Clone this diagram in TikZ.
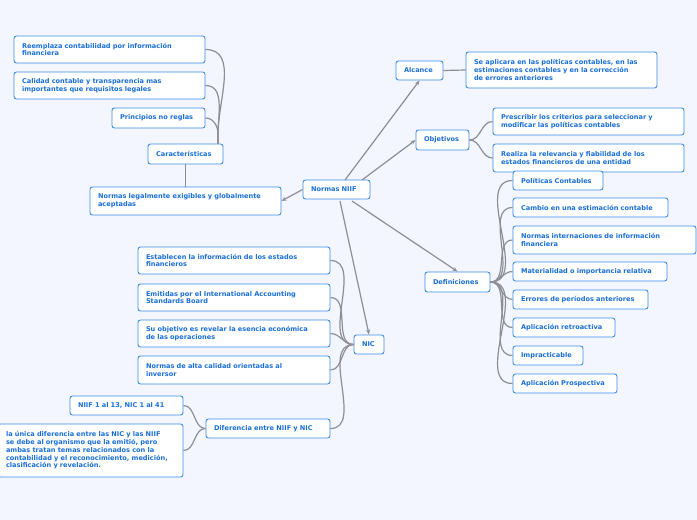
\documentclass[tikz,border=0pt]{standalone}
\usepackage{fontspec}
\setmainfont{DejaVu Sans}
\usetikzlibrary{arrows.meta}
\definecolor{bg}{HTML}{F3F6FE}
\definecolor{tx}{HTML}{1A6FD8}
\definecolor{bd}{HTML}{3D8DE8}
\definecolor{ln}{HTML}{8E8E94}
\tikzset{
  bx/.style={draw=bd,fill=white,rounded corners=2.5bp,line width=0.9bp,text=tx,
    font=\fontsize{6.6}{7.8}\selectfont\bfseries,align=left,inner xsep=0pt,inner ysep=0pt},
  con/.style={draw=ln,line width=1.2bp},
  arr/.style={con,-{Stealth[length=5bp,width=4bp]}}
}
\newcommand{\bx}[6]{%
  \pgfmathsetmacro{\cx}{(#2+#4)/2}\pgfmathsetmacro{\cy}{-(#3+#5)/2}%
  \pgfmathsetmacro{\ww}{#4-#2}\pgfmathsetmacro{\hh}{#5-#3}\pgfmathsetmacro{\tw}{#4-#2-16}%
  \node[bx,minimum width=\ww bp,minimum height=\hh bp,text width=\tw bp] (#1) at (\cx bp,\cy bp) {#6};}
\begin{document}
\begin{tikzpicture}[x=1bp,y=1bp]
\useasboundingbox[fill=bg] (0,0) rectangle (697,-520);
\bx{reem}{14}{36}{205}{63}{Reemplaza contabilidad por información\\financiera}
\bx{cali}{14}{72}{205}{99}{Calidad contable y transparencia mas\\importantes que requisitos legales}
\bx{prin}{112}{108}{205}{128}{Principios no reglas}
\bx{car}{148}{144}{223}{164}{Características}
\bx{nleg}{90}{187}{281}{215}{Normas legalmente exigibles y globalmente\\aceptadas}
\bx{niif}{303}{180}{370}{199}{Normas NIIF}
\bx{alc}{396}{61}{443}{80}{Alcance}
\bx{seap}{466}{52}{657}{88}{Se aplicara en las políticas contables, en las\\estimaciones contables y en la corrección\\de errores anteriores}
\bx{obj}{416}{130}{469}{150}{Objetivos}
\bx{pres}{493}{108}{684}{135}{Prescribir los criterios para seleccionar y\\modificar las políticas contables}
\bx{real}{493}{144}{684}{172}{Realiza la relevancia y fiabilidad de los\\estados financieros de una entidad}
\bx{def}{425}{272}{490}{292}{Definiciones}
\bx{d1}{513}{171}{603}{190}{Políticas Contables}
\bx{d2}{513}{198}{668}{217}{Cambio en una estimación contable}
\bx{d3}{513}{226}{696}{254}{Normas internaciones de información\\financiera}
\bx{d4}{513}{262}{667}{281}{Materialidad o importancia relativa}
\bx{d5}{513}{290}{648}{309}{Errores de períodos anteriores}
\bx{d6}{513}{318}{615}{337}{Aplicación retroactiva}
\bx{d7}{513}{346}{583}{365}{Impracticable}
\bx{d8}{513}{374}{617}{393}{Aplicación Prospectiva}
\bx{nic}{354}{335}{384}{354}{NIC}
\bx{n1}{138}{247}{330}{274}{Establecen la información de los estados\\financieros}
\bx{n2}{138}{284}{330}{311}{Emitidas por el International Accounting\\Standards Board}
\bx{n3}{138}{320}{330}{347}{Su objetivo es revelar la esencia económica\\de las operaciones}
\bx{n4}{138}{356}{330}{384}{Normas de alta calidad orientadas al\\inversor}
\bx{dif}{206}{419}{330}{438}{Diferencia entre NIIF y NIC}
\bx{f1}{70}{396}{183}{415}{NIIF 1 al 13, NIC 1 al 41}
\bx{f2}{-2}{424}{183}{477}{la única diferencia entre las NIC y las NIIF\\se debe al organismo que la emitió, pero\\ambas tratan temas relacionados con la\\contabilidad y el reconocimiento, medición,\\clasificación y revelación.}
% arrows from Normas NIIF
\coordinate (a1) at (345,-180); \coordinate (a2) at (362,-180);
\coordinate (a3) at (352,-201); \coordinate (a4) at (340,-201);
\draw[arr] (a1) -- (alc.south);
\draw[arr] (a2) -- (obj.west);
\draw[arr] (a3) -- (def.north);
\draw[arr] (a4) -- (nic.north);
\draw[arr] (niif.west) -- (nleg.east);
% caracteristicas
\coordinate (cT) at (218,-144);
\foreach \c in {reem,cali,prin} \draw[con] (cT) -- (218,-134) to[out=90,in=0] (\c.east);
\draw[con] (car.south) -- (nleg.north -| car.south);
\draw[con] (alc.east) -- (seap.west);
\foreach \c in {pres,real} \draw[con] (obj.east) to[out=0,in=180] (\c.west);
\foreach \c in {d1,d2,d3,d4,d5,d6,d7,d8} \draw[con] (def.east) to[out=0,in=180] (\c.west);
\foreach \c in {n1,n2,n3,n4,dif} \draw[con] (nic.west) to[out=180,in=0] (\c.east);
\foreach \c in {f1,f2} \draw[con] (dif.west) to[out=180,in=0] (\c.east);
\end{tikzpicture}
\end{document}
